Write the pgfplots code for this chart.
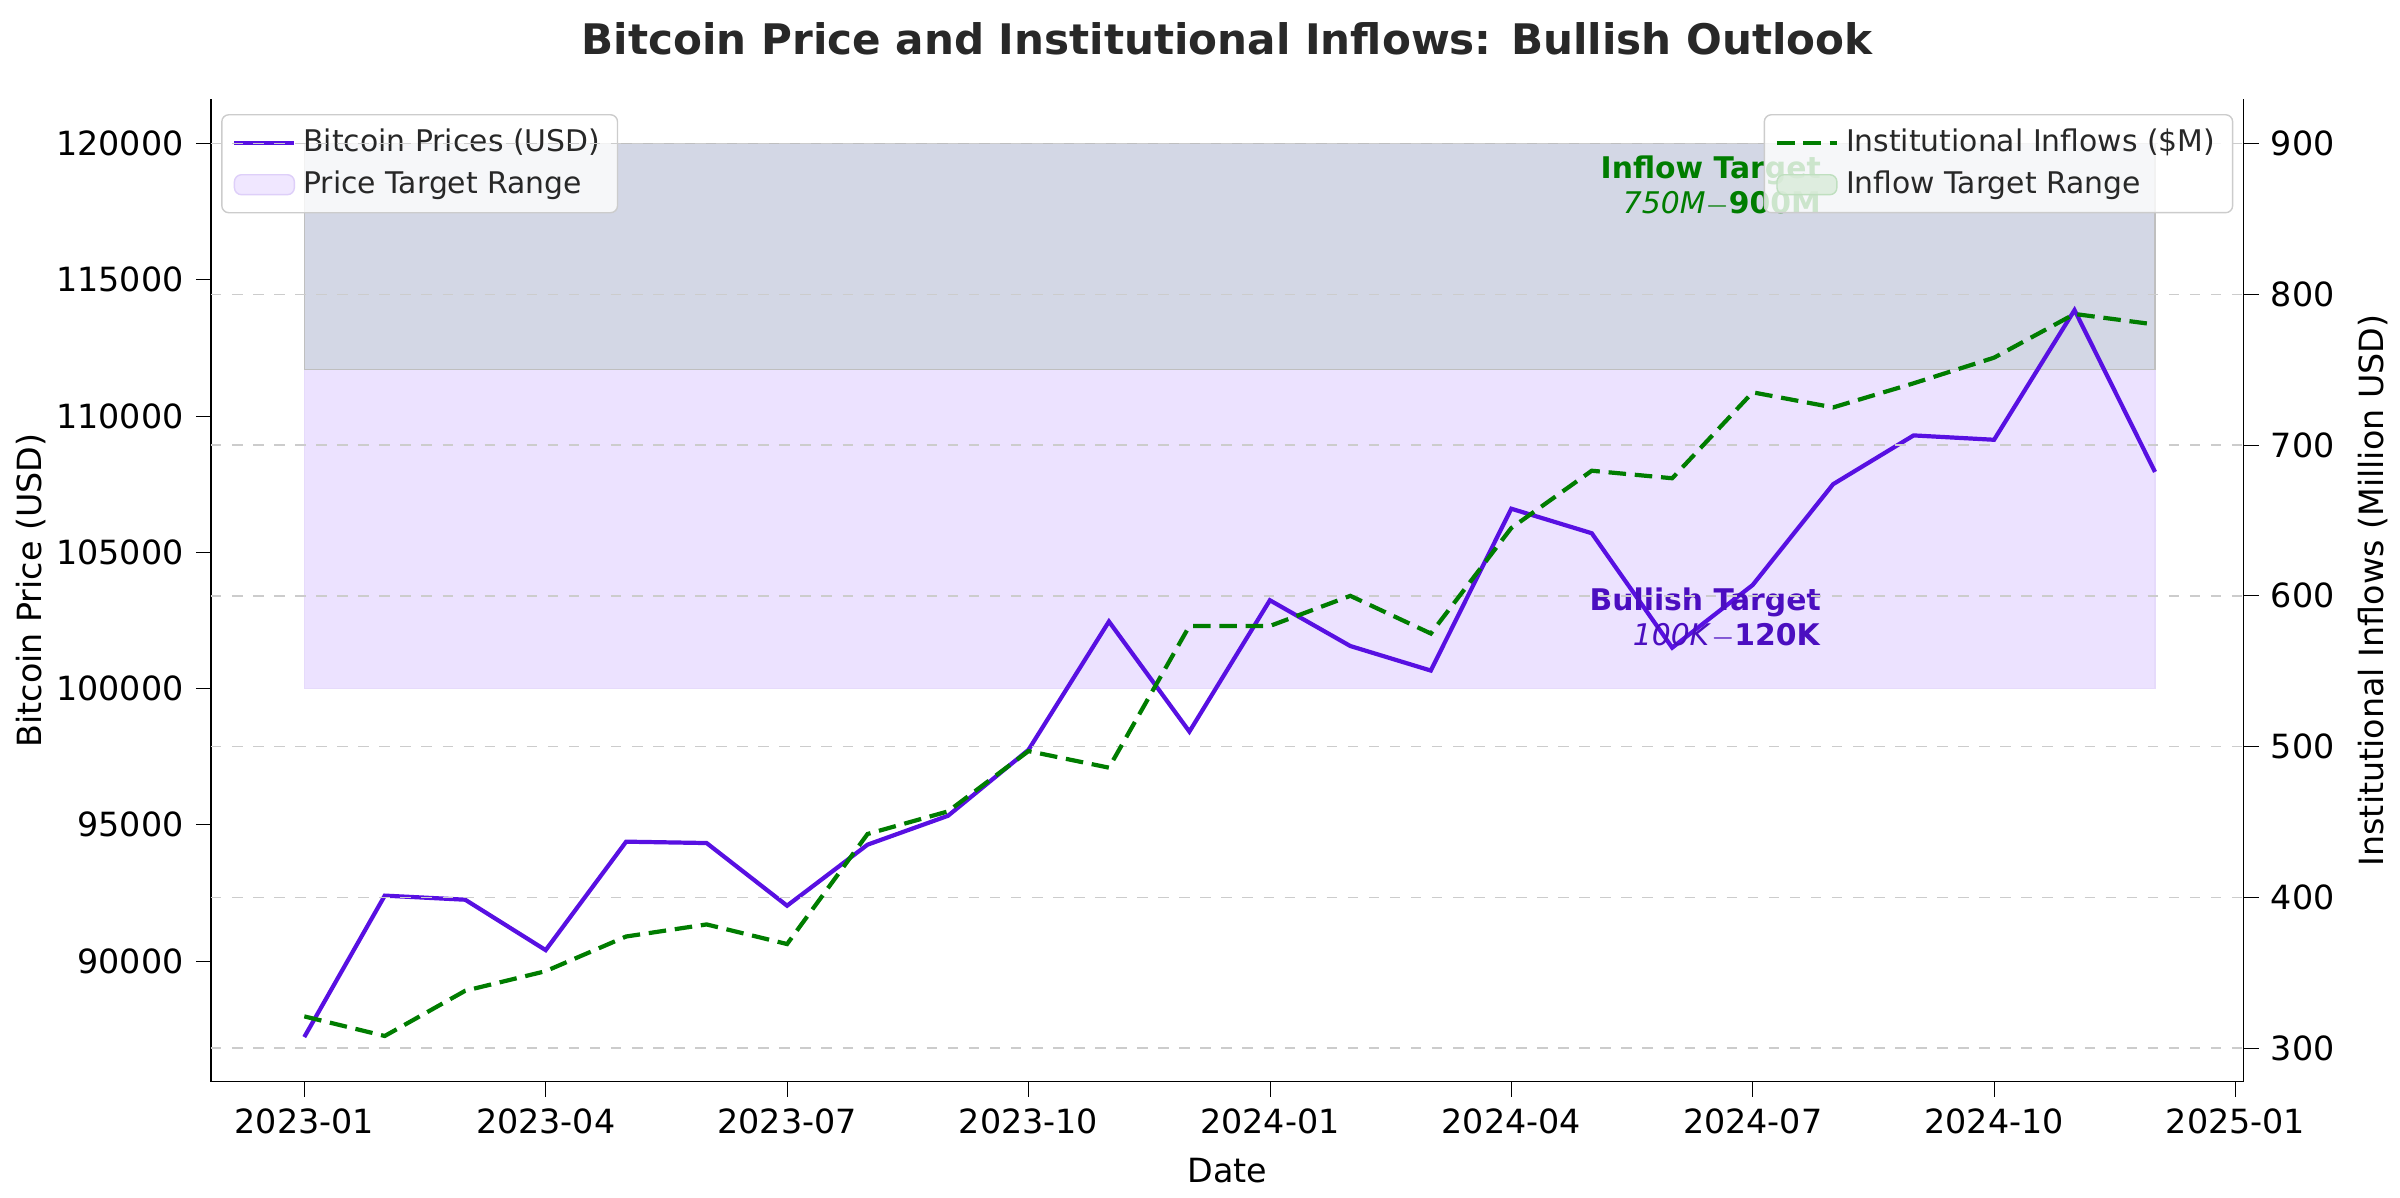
\documentclass[border=0pt]{standalone}
\usepackage{pgfplots}
\pgfplotsset{compat=1.18}
\usepackage{fontspec}
\setmainfont{DejaVu Sans}
\definecolor{btc}{RGB}{88,16,226}
\definecolor{inf}{RGB}{0,125,0}
\definecolor{lav}{RGB}{236,226,255}
\definecolor{txt}{RGB}{40,40,40}
\begin{document}
\begin{tikzpicture}
\pgfplotsset{every axis/.append style={scale only axis,width=20.36cm,height=9.84cm,
  xmin=-1.16,xmax=24.1,font=\fontsize{9.5}{11.5}\selectfont,
  /pgf/number format/assume math mode=true,
  tick style={black},tick align=outside,
  legend style={font=\fontsize{8.5}{10}\selectfont,draw=gray!40,rounded corners=2pt,fill=white,fill opacity=0.8,text opacity=1,text=txt}}}
\begin{axis}[
  axis y line*=left, axis x line*=bottom,
  ymin=85572, ymax=121625,
  ytick={90000,95000,100000,105000,110000,115000,120000},
  yticklabel style={/pgf/number format/.cd,fixed,1000 sep={}},
  scaled y ticks=false,
  xtick={0,3,6,9,12,15,18,21,24},
  xticklabels={2023-01,2023-04,2023-07,2023-10,2024-01,2024-04,2024-07,2024-10,2025-01},
  xlabel={Date}, ylabel={Bitcoin Price (USD)},
  ylabel style={yshift=-4pt},
  legend style={at={(0.005,0.985)},anchor=north west}, legend cell align=left,
  title={\fontsize{12}{14}\selectfont\bfseries\color{txt} Bitcoin Price and Institutional Inflows: Bullish Outlook},
  title style={yshift=3pt},
]
\addlegendimage{btc, line width=1.2pt}
\addlegendentry{Bitcoin Prices (USD)}
\addlegendimage{fill=lav, draw=btc!20, area legend}
\addlegendentry{Price Target Range}
\addplot[fill=lav, draw=btc!15, forget plot] coordinates {(0,100000)(23,100000)(23,120000)(0,120000)} -- cycle;
\addplot[fill=inf, fill opacity=0.1, draw=gray!50, forget plot] coordinates {(0,111704)(23,111704)(23,120000)(0,120000)} -- cycle;
\addplot[btc, line width=1.2pt, forget plot] coordinates {
(0,87209)(1,92400)(2,92250)(3,90400)(4,94380)(5,94330)(6,92030)(7,94270)(8,95330)(9,97750)(10,102460)(11,98420)(12,103240)(13,101560)(14,100660)(15,106600)(16,105700)(17,101500)(18,103800)(19,107500)(20,109290)(21,109130)(22,113890)(23,107950)};
\node[anchor=east, text=btc!85!black, align=right, font=\fontsize{8.5}{10}\selectfont] at (axis cs:19.0,102600) {\textbf{Bullish Target}\\ \textit{100K}$-$\textbf{120K}};
\end{axis}
\begin{axis}[
  axis y line*=right, axis x line=none,
  ymin=277.7, ymax=929.4,
  ytick={300,400,500,600,700,800,900},
  ymajorgrids, grid style={gray!40, dashed, line width=0.4pt},
  ylabel={Institutional Inflows (Million USD)},
  legend style={at={(0.995,0.985)},anchor=north east}, legend cell align=left,
]
\addplot[inf, line width=1.2pt, dash pattern=on 5pt off 2.5pt] coordinates {
(0,321)(1,308)(2,338)(3,351)(4,374)(5,382)(6,369)(7,442)(8,457)(9,497)(10,486)(11,580)(12,580)(13,600)(14,575)(15,645)(16,683)(17,678)(18,735)(19,725)(20,741)(21,758)(22,787)(23,780)};
\addlegendentry{Institutional Inflows (\$M)}
\addlegendimage{fill=inf!15, draw=inf!25, area legend}
\addlegendentry{Inflow Target Range}
\node[anchor=east, text=inf, align=right, font=\fontsize{8.5}{10}\selectfont] at (axis cs:19.0,872) {\textbf{Inflow Target}\\ \textit{750M}$-$\textbf{900M}};
\end{axis}
\path[use as bounding box] ([shift={(-2.113cm,-1.164cm)}]current axis.south west) rectangle ([shift={(1.531cm,0.995cm)}]current axis.north east);
\end{tikzpicture}
\end{document}
